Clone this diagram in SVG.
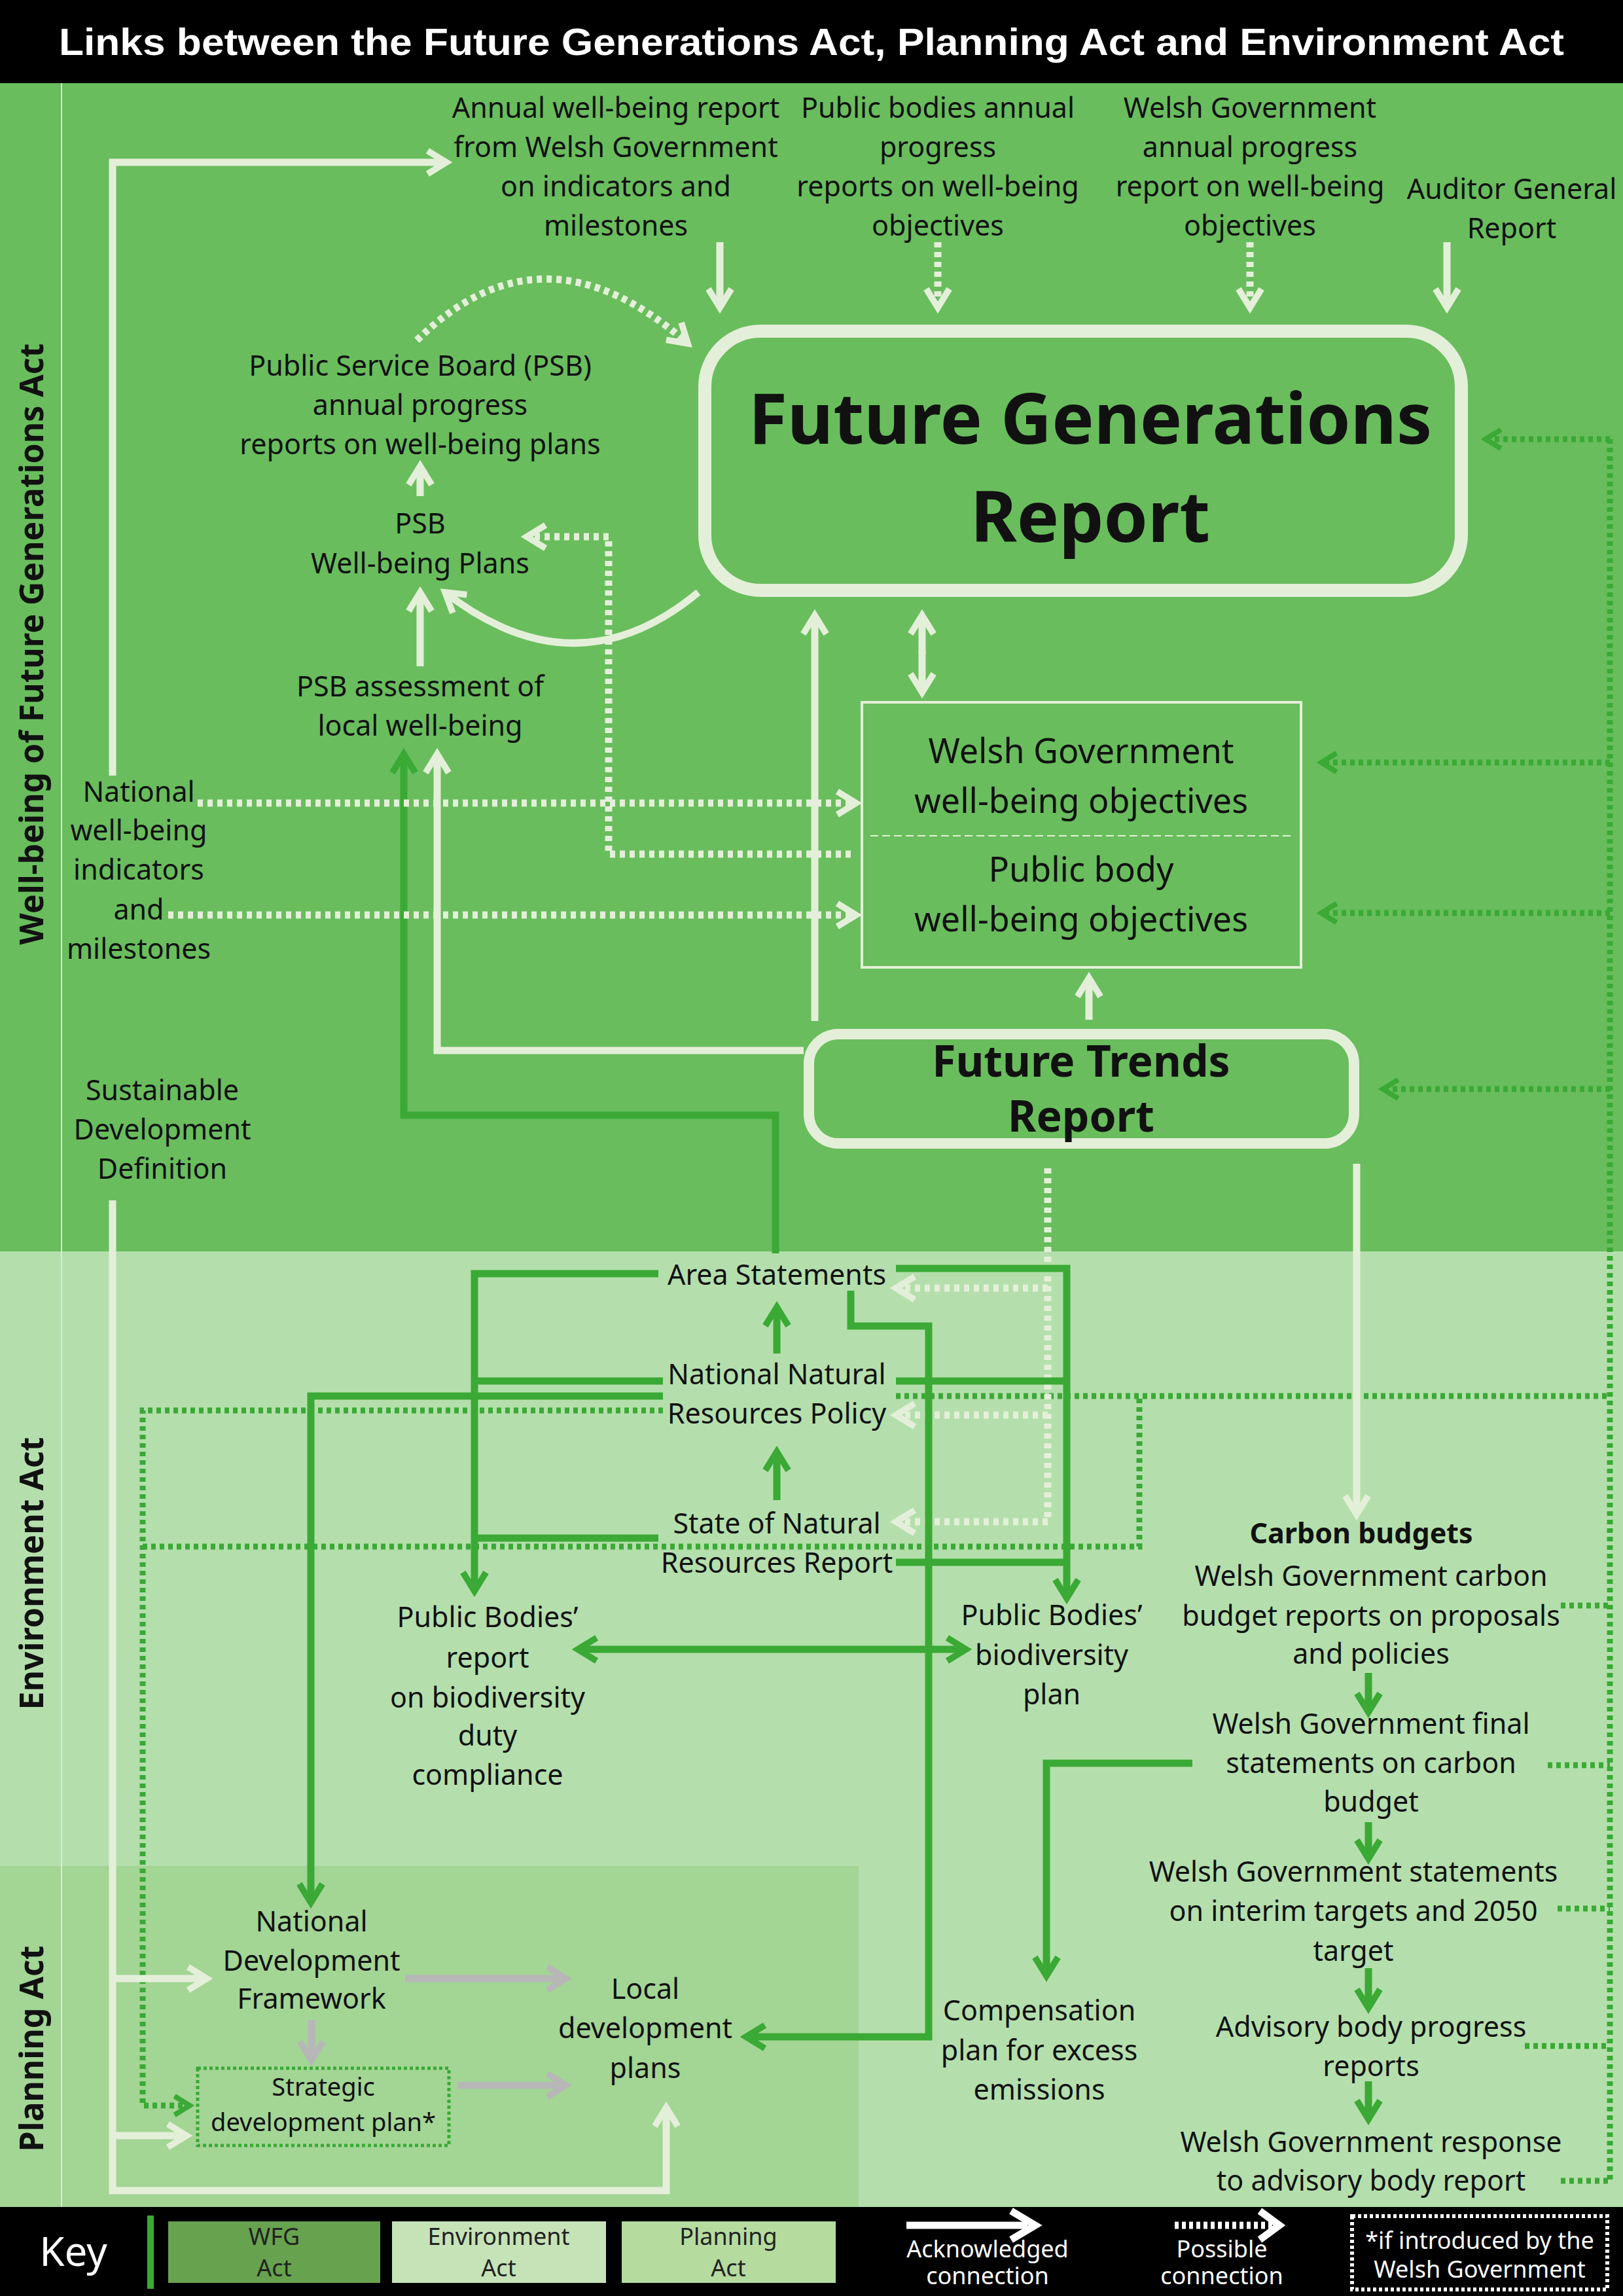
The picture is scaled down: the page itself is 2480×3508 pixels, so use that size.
<svg xmlns="http://www.w3.org/2000/svg" width="2480" height="3508" viewBox="0 0 2480 3508">
<defs>
<style>
.t{font-family:"Noto Sans","Open Sans",sans-serif;font-size:43px;fill:#111;text-anchor:middle}
.b{font-weight:bold}
.side{font-family:"Noto Sans",sans-serif;font-size:50px;font-weight:bold;fill:#111;text-anchor:middle}
.kt{font-family:"Noto Sans",sans-serif;font-size:36px;fill:#fff;text-anchor:middle}
.kd{font-family:"Noto Sans",sans-serif;font-size:36px;fill:#222;text-anchor:middle}
.w{stroke:#e4efd9;stroke-width:11;fill:none}
.wd{stroke:#e4efd9;stroke-width:11;fill:none;stroke-dasharray:8 7}
.g{stroke:#3aa935;stroke-width:11;fill:none}
.gd{stroke:#3aa935;stroke-width:9;fill:none;stroke-dasharray:7 6}
.gr{stroke:#b7b7b7;stroke-width:11;fill:none}
.aw{marker-end:url(#mw)}
.ag{marker-end:url(#mg)}
.agr{marker-end:url(#mgr)}
</style>
<marker id="mw" viewBox="0 0 10 10" refX="8" refY="5" markerWidth="4" markerHeight="4" orient="auto" markerUnits="strokeWidth"><path d="M1.5,1 L8,5 L1.5,9" fill="none" stroke="#e4efd9" stroke-width="2.2"/></marker>
<marker id="mg" viewBox="0 0 10 10" refX="8" refY="5" markerWidth="4" markerHeight="4" orient="auto" markerUnits="strokeWidth"><path d="M1.5,1 L8,5 L1.5,9" fill="none" stroke="#3aa935" stroke-width="2.2"/></marker>
<marker id="mgr" viewBox="0 0 10 10" refX="8" refY="5" markerWidth="4" markerHeight="4" orient="auto" markerUnits="strokeWidth"><path d="M1.5,1 L8,5 L1.5,9" fill="none" stroke="#b7b7b7" stroke-width="2.2"/></marker>
</defs>

<g id="background">
<rect x="0" y="0" width="2480" height="3508" fill="#000"/>
<rect x="0" y="127" width="2480" height="1785" fill="#69bd5d"/>
<rect x="0" y="1912" width="2480" height="1460" fill="#b4dfac"/>
<rect x="0" y="2851" width="1312" height="521" fill="#a3d595"/>
<line x1="94" y1="127" x2="94" y2="3372" stroke="#d8ecd2" stroke-width="2"/>
<text x="1240" y="84" font-family="Liberation Sans, sans-serif" font-size="58" font-weight="bold" fill="#fff" text-anchor="middle" textLength="2300" lengthAdjust="spacingAndGlyphs">Links between the Future Generations Act, Planning Act and Environment Act</text>
<text class="side" transform="translate(66,984) rotate(-90)">Well-being of Future Generations Act</text>
<text class="side" transform="translate(66,2404) rotate(-90)">Environment Act</text>
<text class="side" transform="translate(66,3130) rotate(-90)">Planning Act</text>
</g>

<g id="connectors">
<polyline class="w aw" points="172,1185 172,248 682,248"/>
<line class="w aw" x1="1100" y1="370" x2="1100" y2="470"/>
<line class="wd aw" x1="1433" y1="370" x2="1433" y2="470"/>
<line class="wd aw" x1="1910" y1="370" x2="1910" y2="470"/>
<line class="w aw" x1="2211" y1="370" x2="2211" y2="470"/>
<path class="wd aw" d="M637,520 Q830,330 1051,525"/>
<line class="w aw" x1="642" y1="758" x2="642" y2="712"/>
<line class="w aw" x1="642" y1="1018" x2="642" y2="905"/>
<path class="w aw" d="M1067,905 Q880,1060 680,905"/>
<polyline class="wd aw" points="1300,1305 930,1305 930,820 805,820"/>
<polyline class="w aw" points="1228,1605 668,1605 668,1152"/>
<polyline class="g ag" points="1185,1915 1185,1704 617,1704 617,1152"/>
<line class="w aw" x1="1245" y1="1560" x2="1245" y2="940"/>
<line class="w aw" x1="1409" y1="1000" x2="1409" y2="940"/>
<line class="w aw" x1="1409" y1="995" x2="1409" y2="1058"/>
<line class="w aw" x1="1664" y1="1558" x2="1664" y2="1494"/>
<line class="wd aw" x1="302" y1="1227" x2="1308" y2="1227"/>
<line class="wd aw" x1="257" y1="1398" x2="1308" y2="1398"/>
<polyline class="gd" points="2460,671 2460,3332"/>
<line class="gd ag" x1="2460" y1="671" x2="2270" y2="671"/>
<line class="gd ag" x1="2460" y1="1165" x2="2019" y2="1165"/>
<line class="gd ag" x1="2460" y1="1395" x2="2019" y2="1395"/>
<line class="gd ag" x1="2460" y1="1664" x2="2113" y2="1664"/>
<line class="gd" x1="2385" y1="2453" x2="2460" y2="2453"/>
<line class="gd" x1="2365" y1="2697" x2="2460" y2="2697"/>
<line class="gd" x1="2380" y1="2916" x2="2460" y2="2916"/>
<line class="gd" x1="2330" y1="3126" x2="2460" y2="3126"/>
<line class="gd" x1="2385" y1="3332" x2="2460" y2="3332"/>
<polyline class="gd" points="1369,2133 2460,2133"/>
<polyline class="gd" points="218,2363 1741,2363 1741,2133"/>
<polyline class="gd ag" points="1013,2155 218,2155 218,3217 290,3217"/>
<polyline class="wd" points="1601,1785 1601,2325"/>
<line class="wd aw" x1="1601" y1="1968" x2="1369" y2="1968"/>
<line class="wd aw" x1="1601" y1="2162" x2="1369" y2="2162"/>
<line class="wd aw" x1="1601" y1="2325" x2="1369" y2="2325"/>
<line class="w aw" x1="2073" y1="1778" x2="2073" y2="2314"/>
<line class="g ag" x1="1187" y1="2068" x2="1187" y2="1997"/>
<line class="g ag" x1="1187" y1="2292" x2="1187" y2="2218"/>
<polyline class="g ag" points="1006,1946 725,1946 725,2431"/>
<line class="g" x1="725" y1="2110" x2="1013" y2="2110"/>
<line class="g" x1="725" y1="2350" x2="1006" y2="2350"/>
<polyline class="g ag" points="1013,2133 475,2133 475,2907"/>
<polyline class="g ag" points="1369,1938 1630,1938 1630,2442"/>
<line class="g" x1="1369" y1="2110" x2="1630" y2="2110"/>
<line class="g" x1="1369" y1="2387" x2="1630" y2="2387"/>
<polyline class="g ag" points="1300,1972 1300,2026 1419,2026 1419,3112 1140,3112"/>
<line class="g ag" x1="1180" y1="2520" x2="1476" y2="2520"/>
<line class="g ag" x1="1180" y1="2520" x2="883" y2="2520"/>
<line class="g ag" x1="2091" y1="2556" x2="2091" y2="2616"/>
<line class="g ag" x1="2091" y1="2784" x2="2091" y2="2840"/>
<line class="g ag" x1="2091" y1="3007" x2="2091" y2="3068"/>
<line class="g ag" x1="2091" y1="3180" x2="2091" y2="3238"/>
<polyline class="g ag" points="1822,2694 1599,2694 1599,3019"/>
<polyline class="w aw" points="172,1834 172,3347 1018,3347 1018,3220"/>
<line class="w aw" x1="172" y1="3023" x2="316" y2="3023"/>
<line class="w aw" x1="172" y1="3263" x2="285" y2="3263"/>
<line class="gr agr" x1="619" y1="3023" x2="865" y2="3023"/>
<line class="gr agr" x1="476" y1="3086" x2="476" y2="3148"/>
<line class="gr agr" x1="700" y1="3186" x2="865" y2="3186"/>
</g>

<g id="top-inputs">
<text class="t"><tspan x="941" y="180">Annual well-being report</tspan><tspan x="941" y="240">from Welsh Government</tspan><tspan x="941" y="300">on indicators and</tspan><tspan x="941" y="360">milestones</tspan></text>
<text class="t"><tspan x="1433" y="180">Public bodies annual</tspan><tspan x="1433" y="240">progress</tspan><tspan x="1433" y="300">reports on well-being</tspan><tspan x="1433" y="360">objectives</tspan></text>
<text class="t"><tspan x="1910" y="180">Welsh Government</tspan><tspan x="1910" y="240">annual progress</tspan><tspan x="1910" y="300">report on well-being</tspan><tspan x="1910" y="360">objectives</tspan></text>
<text class="t"><tspan x="2310" y="304">Auditor General</tspan><tspan x="2310" y="364">Report</tspan></text>
</g>

<g id="fg-report">
<rect x="1077" y="506" width="1156" height="396" rx="85" fill="none" stroke="#e4efd9" stroke-width="20"/>
<text class="t b" x="1666" y="678" style="font-size:108px">Future Generations</text>
<text class="t b" x="1666" y="828" style="font-size:108px">Report</text>
</g>

<g id="psb">
<text class="t"><tspan x="642" y="574">Public Service Board (PSB)</tspan><tspan x="642" y="634">annual progress</tspan><tspan x="642" y="694">reports on well-being plans</tspan></text>
<text class="t"><tspan x="642" y="815">PSB</tspan><tspan x="642" y="876">Well-being Plans</tspan></text>
<text class="t"><tspan x="642" y="1064">PSB assessment of</tspan><tspan x="642" y="1124">local well-being</tspan></text>
</g>

<g id="objectives">
<rect x="1317" y="1073" width="671" height="405" fill="none" stroke="#e4efd9" stroke-width="4"/>
<line x1="1330" y1="1277" x2="1975" y2="1277" stroke="#e4efd9" stroke-width="2" stroke-dasharray="12 6"/>
<text class="t" style="font-size:52px"><tspan x="1652" y="1166">Welsh Government</tspan><tspan x="1652" y="1242">well-being objectives</tspan><tspan x="1652" y="1347">Public body</tspan><tspan x="1652" y="1423">well-being objectives</tspan></text>
</g>

<g id="indicators">
<text class="t"><tspan x="212" y="1225">National</tspan><tspan x="212" y="1284">well-being</tspan><tspan x="212" y="1344">indicators</tspan><tspan x="212" y="1405">and</tspan><tspan x="212" y="1465">milestones</tspan></text>
</g>

<g id="future-trends">
<rect x="1236" y="1580" width="833" height="167" rx="45" fill="none" stroke="#e4efd9" stroke-width="16"/>
<text class="t b" style="font-size:66px"><tspan x="1652" y="1645">Future Trends</tspan><tspan x="1652" y="1729">Report</tspan></text>
</g>

<g id="sdd">
<text class="t"><tspan x="248" y="1681">Sustainable</tspan><tspan x="248" y="1741">Development</tspan><tspan x="248" y="1801">Definition</tspan></text>
</g>

<g id="environment-nodes">
<text class="t" x="1187" y="1963">Area Statements</text>
<text class="t"><tspan x="1187" y="2115">National Natural</tspan><tspan x="1187" y="2175">Resources Policy</tspan></text>
<text class="t"><tspan x="1187" y="2343">State of Natural</tspan><tspan x="1187" y="2403">Resources Report</tspan></text>
<text class="t"><tspan x="745" y="2486">Public Bodies’</tspan><tspan x="745" y="2548">report</tspan><tspan x="745" y="2609">on biodiversity</tspan><tspan x="745" y="2667">duty</tspan><tspan x="745" y="2727">compliance</tspan></text>
<text class="t"><tspan x="1607" y="2483">Public Bodies’</tspan><tspan x="1607" y="2544">biodiversity</tspan><tspan x="1607" y="2604">plan</tspan></text>
</g>

<g id="carbon">
<text class="t b" x="2080" y="2358">Carbon budgets</text>
<text class="t"><tspan x="2095" y="2423">Welsh Government carbon</tspan><tspan x="2095" y="2484">budget reports on proposals</tspan><tspan x="2095" y="2542">and policies</tspan></text>
<text class="t"><tspan x="2095" y="2649">Welsh Government final</tspan><tspan x="2095" y="2709">statements on carbon</tspan><tspan x="2095" y="2768">budget</tspan></text>
<text class="t"><tspan x="2068" y="2875">Welsh Government statements</tspan><tspan x="2068" y="2935">on interim targets and 2050</tspan><tspan x="2068" y="2996">target</tspan></text>
<text class="t"><tspan x="2095" y="3112">Advisory body progress</tspan><tspan x="2095" y="3172">reports</tspan></text>
<text class="t"><tspan x="2095" y="3288">Welsh Government response</tspan><tspan x="2095" y="3347">to advisory body report</tspan></text>
<text class="t"><tspan x="1588" y="3087">Compensation</tspan><tspan x="1588" y="3148">plan for excess</tspan><tspan x="1588" y="3208">emissions</tspan></text>
</g>

<g id="planning">
<text class="t"><tspan x="476" y="2951">National</tspan><tspan x="476" y="3011">Development</tspan><tspan x="476" y="3069">Framework</tspan></text>
<rect x="302" y="3160" width="384" height="118" fill="none" stroke="#3aa935" stroke-width="5" stroke-dasharray="5 4"/>
<text class="t" style="font-size:38px"><tspan x="494" y="3202">Strategic</tspan><tspan x="494" y="3256">development plan*</tspan></text>
<text class="t"><tspan x="986" y="3054">Local</tspan><tspan x="986" y="3114">development</tspan><tspan x="986" y="3175">plans</tspan></text>
</g>

<g id="key">
<text x="112" y="3462" font-family="Noto Sans, sans-serif" font-size="62" fill="#fff" text-anchor="middle">Key</text>
<rect x="225" y="3385" width="10" height="112" fill="#3aa935"/>
<rect x="257" y="3394" width="324" height="94" fill="#67a24e"/>
<rect x="599" y="3394" width="327" height="94" fill="#c6e3b8"/>
<rect x="950" y="3394" width="327" height="94" fill="#b5db9f"/>
<text class="kd"><tspan x="419" y="3430">WFG</tspan><tspan x="419" y="3478">Act</tspan></text>
<text class="kd"><tspan x="762" y="3430">Environment</tspan><tspan x="762" y="3478">Act</tspan></text>
<text class="kd"><tspan x="1113" y="3430">Planning</tspan><tspan x="1113" y="3478">Act</tspan></text>
<line x1="1385" y1="3400" x2="1570" y2="3400" stroke="#fff" stroke-width="11"/>
<line x1="1795" y1="3400" x2="1945" y2="3400" stroke="#fff" stroke-width="11" stroke-dasharray="6 5"/>
<path d="M1545,3378 L1582,3400 L1545,3422 M1925,3378 L1955,3400 L1925,3422" fill="none" stroke="#fff" stroke-width="11"/>
<text class="kt"><tspan x="1509" y="3449">Acknowledged</tspan><tspan x="1509" y="3490">connection</tspan></text>
<text class="kt"><tspan x="1867" y="3449">Possible</tspan><tspan x="1867" y="3490">connection</tspan></text>
<rect x="2066" y="3386" width="390" height="112" fill="none" stroke="#fff" stroke-width="6" stroke-dasharray="5 4"/>
<text class="kt"><tspan x="2261" y="3436">*if introduced by the</tspan><tspan x="2261" y="3480">Welsh Government</tspan></text>
</g>
</svg>
